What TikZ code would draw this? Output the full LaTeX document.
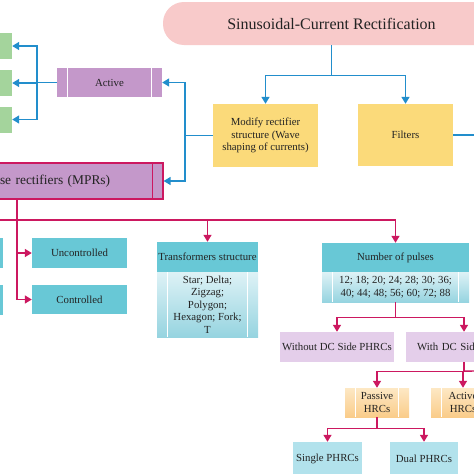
\documentclass[tikz,border=0pt]{standalone}
\usepackage{fontspec}
\setmainfont{Liberation Serif}
\usetikzlibrary{arrows.meta}

\definecolor{arrowblue}{RGB}{34,142,204}
\definecolor{linered}{RGB}{204,24,96}
\definecolor{titlepink}{RGB}{248,202,202}
\definecolor{boxyellow}{RGB}{251,218,122}
\definecolor{boxpurple}{RGB}{196,152,202}
\definecolor{boxgreen}{RGB}{164,212,156}
\definecolor{boxteal}{RGB}{104,200,214}
\definecolor{lightteal}{RGB}{178,226,236}
\definecolor{lilac}{RGB}{228,206,234}
\definecolor{textgrey}{RGB}{35,35,35}

\begin{document}
\begin{tikzpicture}[x=1pt, y=-1pt, >={Triangle[width=8pt,length=7pt]},
  every node/.style={font=\fontsize{10.8}{12.6}\selectfont, text=textgrey,
    align=center, inner sep=0pt},
  procbox/.style={path picture={
    \draw [#1, line width=1pt]
      ([xshift=10.5pt]path picture bounding box.north west) -- ([xshift=10.5pt]path picture bounding box.south west)
      ([xshift=-10.5pt]path picture bounding box.north east) -- ([xshift=-10.5pt]path picture bounding box.south east);}},
  titlebox/.style={fill=titlepink, rounded corners=21pt, minimum width=337pt,
    minimum height=43pt, font=\fontsize{16}{18}\selectfont},
  yellowbox/.style={fill=boxyellow},
  purplebox/.style={fill=boxpurple, procbox=white, minimum width=105pt, minimum height=29pt},
  greenbox/.style={fill=boxgreen, minimum width=17pt, minimum height=26pt},
  mprbox/.style={fill=boxpurple, draw=linered, line width=1.2pt, procbox=linered,
    minimum width=176pt, minimum height=36pt, text width=150pt, align=left,
    font=\fontsize{13.4}{15}\selectfont},
  tealbox/.style={fill=boxteal, minimum width=95pt, minimum height=30pt},
  tealbody/.style={top color={rgb,255:red,222;green,242;blue,246},
    bottom color={rgb,255:red,150;green,212;blue,224}, procbox=white},
  lilacbox/.style={fill=lilac, minimum height=30pt},
  orangebox/.style={top color={rgb,255:red,253;green,232;blue,196},
    bottom color={rgb,255:red,250;green,204;blue,138}, procbox=white,
    minimum width=64pt, minimum height=29pt},
  lightbox/.style={fill=lightteal, minimum height=34pt},
  bline/.style={draw=arrowblue, line width=1.4pt},
  rline/.style={draw=linered, line width=1.4pt}]

\fill [white, use as bounding box] (0,0) rectangle (474,474);

% first levels
\node [titlebox] (title) at (331.5,23.5) {Sinusoidal-Current Rectification};
\node [yellowbox, minimum width=105pt, minimum height=63pt] (modify) at (265.5,135.5)
  {Modify rectifier\\structure (Wave\\shaping of currents)};
\node [yellowbox, minimum width=95pt, minimum height=62pt] (filters) at (405.5,135) {Filters};

\node [purplebox] (active) at (109.5,82.5) {Active};
\foreach \y [count=\i] in {46,83,119.5}
  \node [greenbox] (out-\i) at (3.5,\y) {};

\node [mprbox] (mpr) at (75,181) {se rectifiers (MPRs)};

% MPR branches
\node [tealbox] (uncontrolled) at (79.5,253) {Uncontrolled};
\node [tealbox, minimum height=29pt] (controlled) at (79.5,299.5) {Controlled};
\foreach \y [count=\i] in {253,299.5}
  \node [tealbox, minimum width=10pt, minimum height=30pt] (cut-\i) at (-2.5,\y) {};

\node [tealbox, minimum width=101pt] (trans) at (207.5,257) {Transformers structure};
\node [tealbody, minimum width=101pt, minimum height=65pt] (trans-list) at (207.5,304.5)
  {Star; Delta;\\Zigzag;\\Polygon;\\Hexagon; Fork;\\T};

\node [tealbox, minimum width=147pt, minimum height=29pt] (pulses) at (395.5,257.5) {Number of pulses};
\node [tealbody, minimum width=147pt, minimum height=30pt] (pulses-list) at (395.5,287)
  {12; 18; 20; 24; 28; 30; 36;\\40; 44; 48; 56; 60; 72; 88};

% PHRC levels
\node [lilacbox, minimum width=114pt] (without) at (337,347) {Without DC Side PHRCs};
\node [lilacbox, minimum width=116pt, text width=94pt, align=left, inner xsep=11pt] (with) at (464,347) {With DC Side};

\node [orangebox] (passive) at (377,402.5) {Passive\\HRCs};
\node [orangebox] (active-hrc) at (463,402.5) {Active\\HRCs};

\node [lightbox, minimum width=69pt] (single) at (327.5,459) {Single PHRCs};
\node [lightbox, minimum width=68pt] (dual) at (424,459) {Dual PHRCs};

% blue connectors
\draw [bline, ->] (title.south) -- ++(0,30) -| (modify.north);
\draw [bline, ->] (title.south) -- ++(0,30) -| (filters.north);
\coordinate (filters-out) at (474,135);
\draw [bline] (filters.east) -- (filters-out);
\draw [bline, ->] (modify.west) -- ++(-28,0) |- (active.east);
\draw [bline, ->] (modify.west) -- ++(-28,0) |- (mpr.east);
\foreach \i in {1,2,3}
  \draw [bline, ->] (active.west) -- ++(-20,0) |- (out-\i.east);

% red connectors
\coordinate (mpr-foot) at (17,199);
\draw [rline, ->] (mpr-foot) |- (uncontrolled.west);
\draw [rline, ->] (mpr-foot) |- (controlled.west);
\coordinate (bus) at (0,220);
\draw [rline, ->] (bus) -| (pulses.north);
\draw [rline, ->] (bus -| trans.north) -- (trans.north);

\foreach \n in {without,with}
  \draw [rline, ->] (pulses-list.south) -- ++(0,15) -| (\n.north);
\foreach \n in {passive,active-hrc}
  \draw [rline, ->] (with.south) -- ++(0,9) -| (\n.north);
\coordinate (hrc-out) at (474,371);
\draw [rline] (with.south) -- ++(0,9) -- (hrc-out);
\foreach \n in {single,dual}
  \draw [rline, ->] (passive.south) -- ++(0,11) -| (\n.north);
\end{tikzpicture}
\end{document}
